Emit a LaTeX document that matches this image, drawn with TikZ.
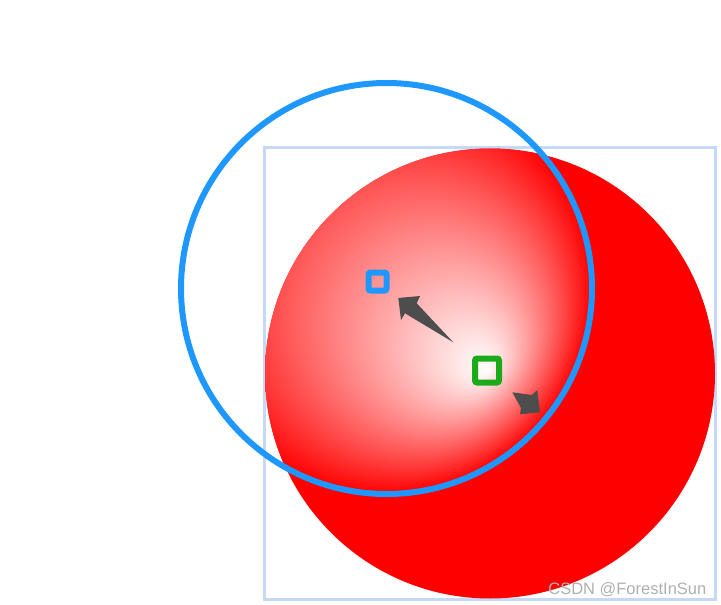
\documentclass[tikz,border=0pt]{standalone}
\usepackage{fontspec}
\newfontfamily\wmfont{Liberation Sans}
\definecolor{cblue}{RGB}{30,152,255}
\definecolor{cgreen}{RGB}{26,170,26}
\definecolor{cframe}{RGB}{197,216,245}
\definecolor{carrow}{RGB}{77,77,77}
\definecolor{cwm}{RGB}{175,175,175}
\pgfdeclareradialshading{focalshade}{\pgfpoint{100.5bp}{-82bp}}{color(0bp)=(white); color(205.5bp)=(red)}
\tikzset{
  marker/.style={draw, rounded corners=2bp, inner sep=0pt, fill=none},
  arrowshape/.style={fill=carrow, draw=none},
}
\begin{document}
\begin{tikzpicture}[x=1bp,y=-1bp]
\useasboundingbox (0,0) rectangle (721,605);
% frame
\draw[cframe, line width=3bp] (264.5,147.5) rectangle (715.5,599.5);
% red ball with focal gradient
\fill[red] (490,373.5) circle (225);
\begin{scope}
  \clip (490,373.5) circle (225);
  \node[inner sep=0pt, anchor=center] (shade) at (386.5,288.5) {\pgfuseshading{focalshade}};
\end{scope}
% outer gradient circle
\draw[cblue, line width=6bp] (386.5,288.5) circle (205.5);
% markers
\node[marker, draw=cblue, line width=6bp, minimum size=18bp] (b) at (377.5,281.5) {};
\node[marker, draw=cgreen, line width=6bp, minimum size=24bp] (g) at (487,370.5) {};
% arrows
\fill[arrowshape] (453.3,342.3) -- (416.7,303.3) -- (420,296) -- (398.3,298) -- (401,320) -- (405,313.3) -- cycle;
\fill[arrowshape] (512.3,392.3) -- (532,395) -- (537.3,390) -- (540,412.3) -- (520,414.3) -- (521,408) -- cycle;
% watermark
\node[font=\wmfont\fontsize{16.5bp}{19bp}\selectfont, text=cwm, anchor=east, inner sep=0pt] (wm) at (706.5,590) {CSDN @ForestInSun};
\end{tikzpicture}
\end{document}
